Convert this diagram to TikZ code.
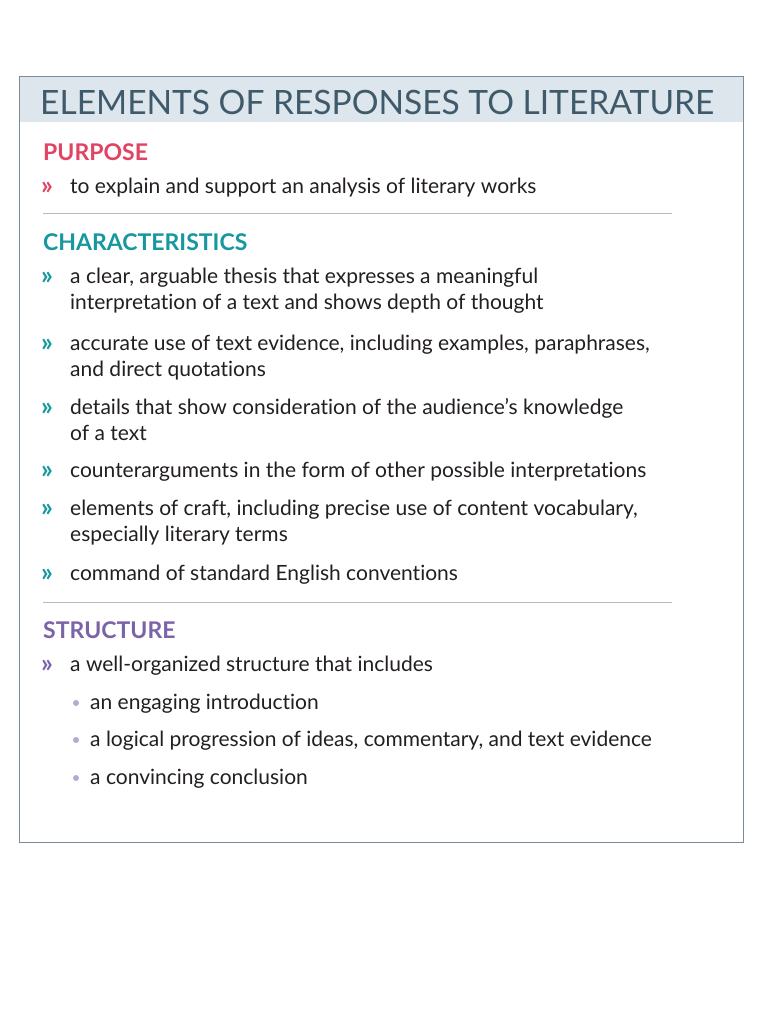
\documentclass[tikz,border=0pt]{standalone}
\usepackage{fontspec}
\setmainfont[Ligatures=CommonOff]{Lato}
\definecolor{hdr}{HTML}{DCE6EC}
\definecolor{ttl}{HTML}{3F5B6B}
\definecolor{pur}{HTML}{E14463}
\definecolor{cha}{HTML}{17979E}
\definecolor{str}{HTML}{7A63A9}
\definecolor{txt}{HTML}{231F20}
\definecolor{dot}{HTML}{B5A8D3}
\begin{document}
\begin{tikzpicture}[x=1pt,y=-1pt,
  body/.style={anchor=base west,inner sep=0pt,font=\fontsize{21}{26}\selectfont,text=txt},
  head/.style={anchor=base west,inner sep=0pt,font=\fontsize{23}{26}\selectfont\bfseries},
  chev/.style={anchor=base west,inner sep=0pt,font=\fontsize{26}{26}\selectfont\bfseries},
  sep/.style={draw=gray!55,line width=0.8pt}]
\useasboundingbox (0,0) rectangle (768,1024);
\fill[white] (0,0) rectangle (768,1024);
\fill[hdr] (19,76) rectangle (743,122);
\draw[ttl!70,line width=0.8pt] (19,76) rectangle (743,842);
\node[anchor=base west,inner sep=0pt,text=ttl,font=\fontsize{33.5}{36}\selectfont] (title) at (40,115) {ELEMENTS OF RESPONSES TO LITERATURE};
\node[head,text=pur] (h1) at (43,161) {PURPOSE};
\node[chev,text=pur] (c1) at (41,195) {»};
\node[body] (t1) at (70,194) {to explain and support an analysis of literary works};
\draw[sep] (43,213) -- (672,213);
\node[head,text=cha] (h2) at (43,251) {CHARACTERISTICS};
\foreach \y/\t/\u [count=\i] in {
 283/{a clear, arguable thesis that expresses a meaningful}/{interpretation of a text and shows depth of thought},
 350/{accurate use of text evidence, including examples, paraphrases,}/{and direct quotations},
 414/{details that show consideration of the audience’s knowledge}/{of a text},
 477/{counterarguments in the form of other possible interpretations}/{},
 515/{elements of craft, including precise use of content vocabulary,}/{especially literary terms},
 580/{command of standard English conventions}/{}}{
 \node[chev,text=cha] (cc\i) at (41,\y+1) {»};
 \node[body] (ct\i) at (70,\y) {\t};
 \node[body] (cu\i) at (70,\y+26) {\u};
}
\draw[sep] (43,602) -- (672,602);
\node[head,text=str] (h3) at (43,638) {STRUCTURE};
\node[chev,text=str] (c3) at (41,672) {»};
\node[body] (s0) at (70,671) {a well-organized structure that includes};
\foreach \y/\t [count=\i] in {709/{an engaging introduction},746/{a logical progression of ideas, commentary, and text evidence},784/{a convincing conclusion}}{
 \fill[dot] (76,\y-6) circle (3);
 \node[body] (s\i) at (90,\y) {\t};
}
\end{tikzpicture}
\end{document}
